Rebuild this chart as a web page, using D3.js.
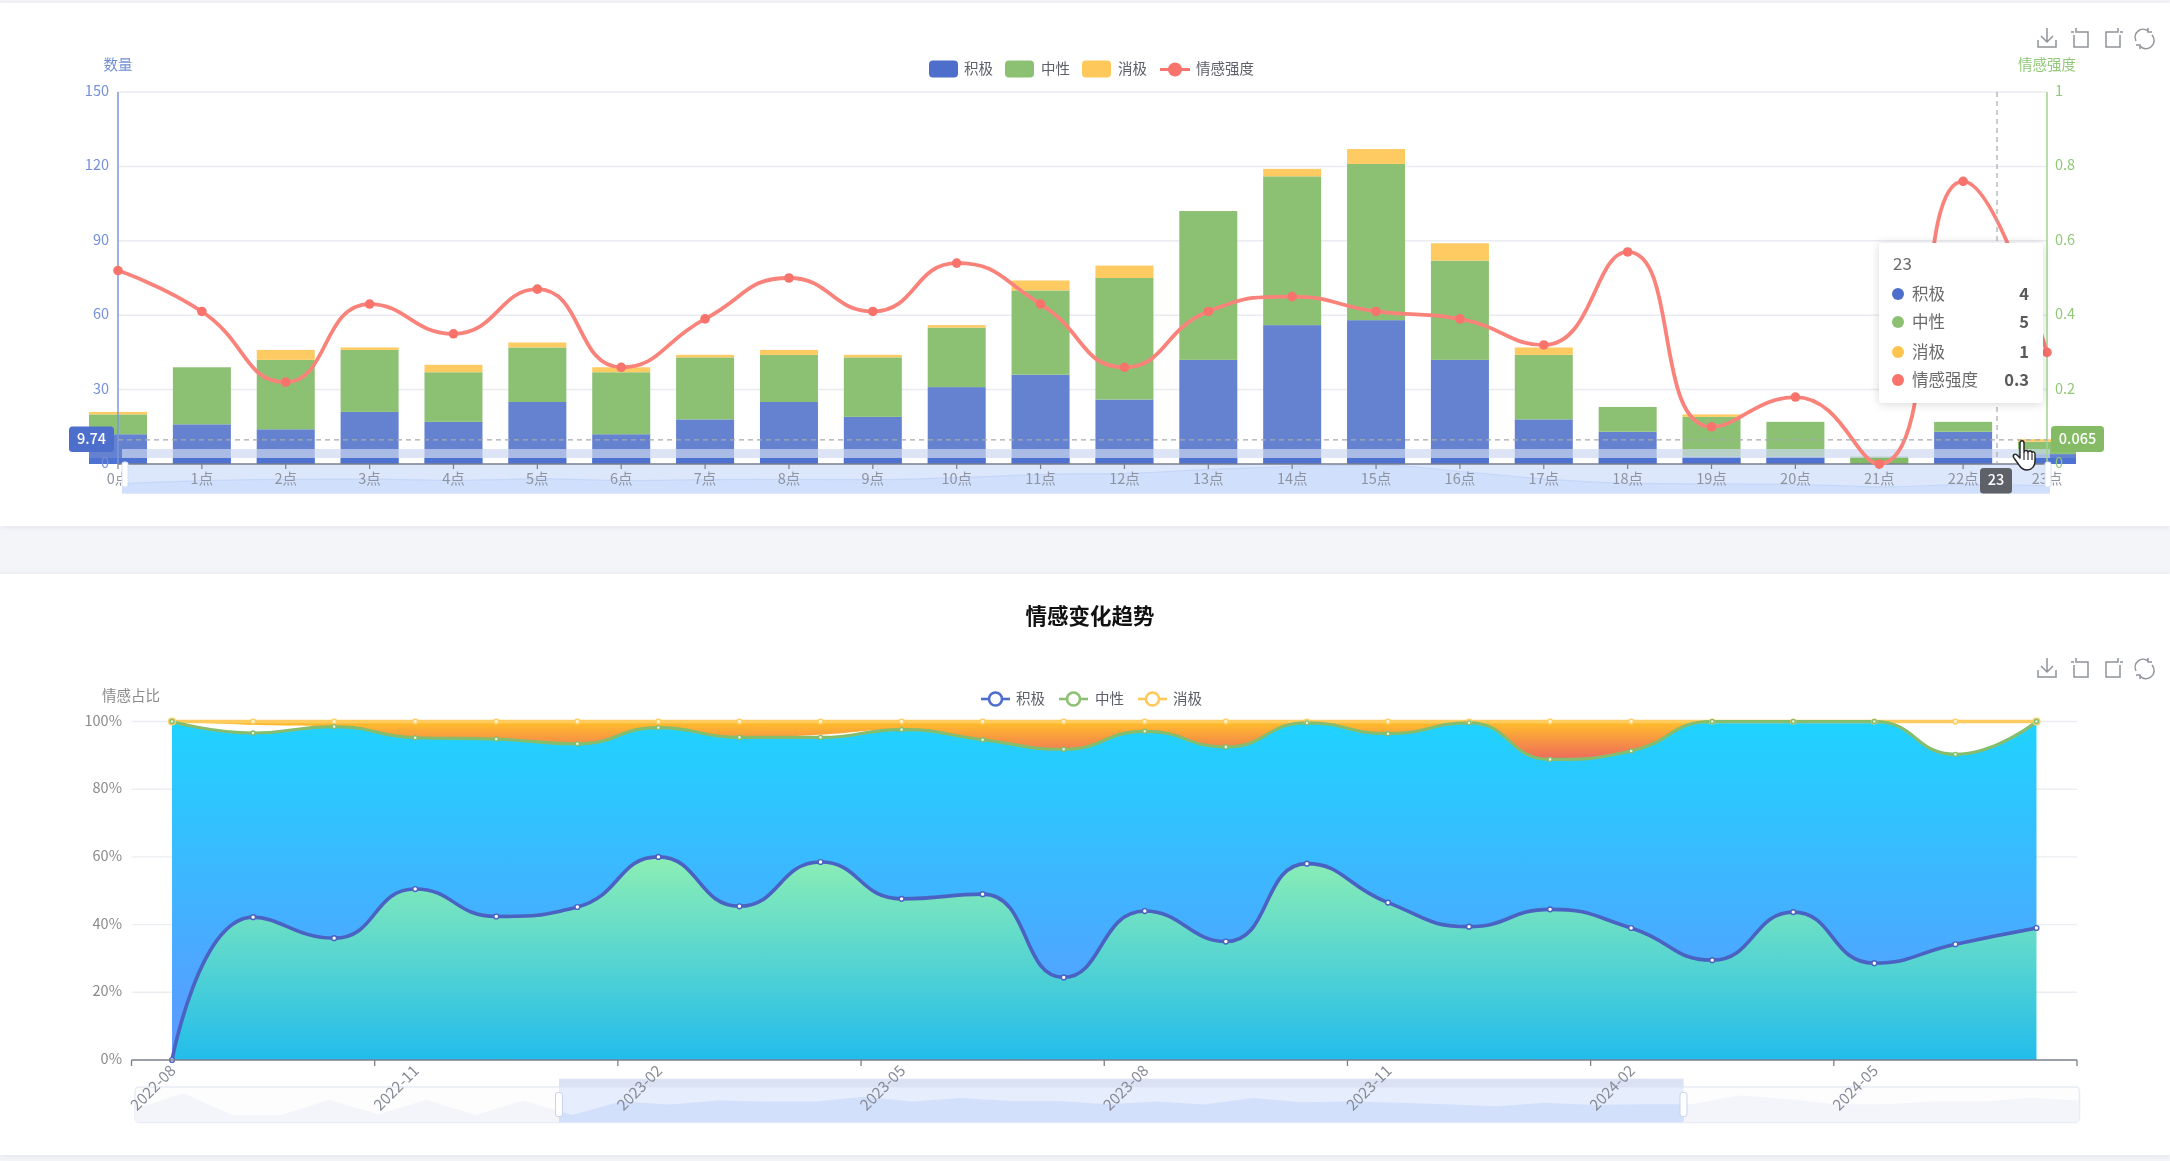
<!DOCTYPE html>
<html><head><meta charset="utf-8">
<script src="https://cdn.jsdelivr.net/npm/d3@7"></script>
<style>
html,body{margin:0;padding:0;background:#f4f5f9;}
svg{display:block;filter:blur(0.6px);}
text{font-family:"Noto Sans CJK SC","Noto Sans",sans-serif;}
</style></head><body><svg id="c" width="2170" height="1161"></svg>
<script>
// ---------- data: top chart ----------
const hours = d3.range(24).map(String);
const hourLabels = ["0点","1点","2点","3点","4点","5点","6点","7点","8点","9点","10点","11点","12点","13点","14点","15点","16点","17点","18点","19点","20点","21点","22点","23点"];
const positiveCount = [12,16,14,21,17,25,12,18,25,19,31,36,26,42,56,58,42,18,13,3,3,0,13,4];
const neutralCount  = [8,23,28,25,20,22,25,25,19,24,24,34,49,60,60,63,40,26,10,16,14,3,4,5];
const negativeCount = [1,0,4,1,3,2,2,1,2,1,1,4,5,0,3,6,7,3,0,1,0,0,0,1];
const intensity = [.52,.41,.22,.43,.35,.47,.26,.39,.50,.41,.54,.43,.26,.41,.45,.41,.39,.32,.57,.10,.18,0,.76,.30];
const leftTicks = [0,30,60,90,120,150];
const rightTicks = [0,.2,.4,.6,.8,1];
const tooltipRows = [["积极","4"],["中性","5"],["消极","1"],["情感强度","0.3"]];
// ---------- data: bottom chart ----------
const months = ["2022-08","2022-09","2022-10","2022-11","2022-12","2023-01","2023-02","2023-03","2023-04","2023-05","2023-06","2023-07","2023-08","2023-09","2023-10","2023-11","2023-12","2024-01","2024-02","2024-03","2024-04","2024-05","2024-06","2024-07"];
const monthLabels = ["2022-08","2022-11","2023-02","2023-05","2023-08","2023-11","2024-02","2024-05"];
const positiveShare = [0,42.2,36,50.5,42.4,45.2,60,45.4,58.5,47.6,49,24.4,44,35,58,46.5,39.4,44.5,39,29.5,43.7,28.6,34.2,39];
const neutralShare  = [100,54.4,62.5,44.7,52.4,48.2,38.2,49.9,36.8,50,45.6,67.4,53.1,57.5,41.6,49.9,60.2,44.3,52.3,70.5,56.3,71.4,56.1,61];
const negativeShare = [0,3.4,1.5,4.8,5.2,6.6,1.8,4.7,4.7,2.4,5.4,8.2,2.9,7.5,.4,3.6,.4,11.2,8.7,0,0,0,9.7,0];
// lower edge of the orange fill: it leaves white gaps above the green line
const negativeFillFloor = [100,99,98.5,95.2,94.8,93.4,98.2,95.3,96.1,97.6,94.6,91.8,97.1,92.5,99.6,96.4,99.6,88.8,91.3,100,100,100,100,100];
const pctTicks = [0,20,40,60,80,100];
const sliderShadow = [25,68,8,8,50,10,50,8,48,8,45,37,48,45,45,58,45,55,47,47,38,45,37,55,43,45,42,38,32,42,36,38,38,62,52,38,38,45,45,55,48];

const svg = d3.select("#c");
const defs = svg.append("defs");

// ECharts-style smoothing as a d3 curve
function SmoothCurve(ctx){this._c=ctx;}
SmoothCurve.prototype={
  areaStart(){this._line=0;},
  areaEnd(){this._line=NaN;},
  lineStart(){this._p=[];},
  point(x,y){this._p.push([+x,+y]);},
  lineEnd(){
    const p=this._p,n=p.length,c=this._c,s=.5;
    if(n){
      this._line?c.lineTo(p[0][0],p[0][1]):c.moveTo(p[0][0],p[0][1]);
      const out=[],inn=[];
      const cl=(v,a,b)=>Math.max(Math.min(v,Math.max(a,b)),Math.min(a,b));
      p.forEach((q,i)=>{
        if(i===0||i===n-1){out[i]=q;inn[i]=q;return;}
        const a=p[i-1],b=p[i+1];
        const lp=Math.hypot(q[0]-a[0],q[1]-a[1]),ln=Math.hypot(b[0]-q[0],b[1]-q[1]);
        const r=ln/(ln+lp);
        let nx=cl(q[0]+(b[0]-a[0])*s*r,b[0],q[0]),ny=cl(q[1]+(b[1]-a[1])*s*r,b[1],q[1]);
        let px=cl(q[0]-(nx-q[0])*lp/ln,a[0],q[0]),py=cl(q[1]-(ny-q[1])*lp/ln,a[1],q[1]);
        nx=q[0]+(q[0]-px)*ln/lp;ny=q[1]+(q[1]-py)*ln/lp;
        out[i]=[nx,ny];inn[i]=[px,py];
      });
      for(let i=1;i<n;i++)c.bezierCurveTo(out[i-1][0],out[i-1][1],inn[i][0],inn[i][1],p[i][0],p[i][1]);
    }
    if(this._line)c.closePath();
    this._line=1-this._line;
  }
};
const smooth=ctx=>new SmoothCurve(ctx);

// ---------- page panels ----------
defs.append("filter").attr("id","soft").attr("x","-20%").attr("y","-20%").attr("width","140%").attr("height","140%")
  .append("feDropShadow").attr("dx",0).attr("dy",1).attr("stdDeviation",5).attr("flood-color","#000").attr("flood-opacity",.16);
defs.append("filter").attr("id","panel").attr("x","-2%").attr("y","-5%").attr("width","104%").attr("height","110%")
  .append("feDropShadow").attr("dx",0).attr("dy",1).attr("stdDeviation",3).attr("flood-color","#8a90a8").attr("flood-opacity",.18);
svg.append("rect").attr("width",2170).attr("height",1161).attr("fill","#f4f5f9");
svg.append("rect").attr("x",0).attr("y",3).attr("width",2170).attr("height",523).attr("fill","#fff").attr("filter","url(#panel)");
svg.append("rect").attr("x",0).attr("y",574).attr("width",2170).attr("height",581).attr("fill","#fff").attr("filter","url(#panel)");

function toolbox(y){
  const g=svg.append("g").attr("fill","none").attr("stroke","#8f949b").attr("stroke-width",1.5);
  const shapes=[[2037,"M10 0V13M4 8L10 14L16 8M1 12V19H19V12"],
    [2071,"M5 0V4H17V19H3V7M0 4H3"],
    [2103,"M15 0V4H3V19H17V7M20 4H17"],
    [2133,"M3 13A8 8 0 0 1 15 3M19 7A8 8 0 0 1 7 18M15 0V4H19M7 21V17H3"]];
  shapes.forEach(([x,d])=>g.append("path").attr("transform",`translate(${x},${y})`).attr("d",d));
}
toolbox(28);toolbox(658);

// ---------- top chart ----------
const tx=d3.scalePoint().domain(hours).range([118,2047]);
const ty=d3.scaleLinear().domain([0,150]).range([464,92]);
const tr=d3.scaleLinear().domain([0,1]).range([464,92]);
const BAR=58;
const barColors=["#6482cf","#8cc173","#fecb62"];
const barColorsStrong=["#4d72d2","#82bb66","#fecb62"];
const stackRows=hours.map((h,i)=>({h,p:positiveCount[i],n:neutralCount[i],m:negativeCount[i]}));
const topStack=d3.stack().keys(["p","n","m"])(stackRows);

const gridT=svg.append("g");
gridT.selectAll("line").data(leftTicks.slice(1)).join("line")
  .attr("x1",118).attr("x2",2047).attr("y1",d=>ty(d)).attr("y2",d=>ty(d)).attr("stroke","#e9ebf1").attr("stroke-width",1.5);

function drawBars(g,colors){
  g.selectAll("g").data(topStack).join("g").attr("fill",(d,i)=>colors[i])
   .selectAll("rect").data(d=>d).join("rect")
   .attr("x",d=>tx(d.data.h)-BAR/2).attr("width",BAR)
   .attr("y",d=>ty(d[1])).attr("height",d=>Math.max(0,ty(d[0])-ty(d[1])));
}
drawBars(svg.append("g"),barColors);

// slider of the top chart
svg.append("rect").attr("x",122).attr("y",449).attr("width",1928).attr("height",9).attr("fill","rgb(203,215,240)").attr("fill-opacity",.68);
svg.append("rect").attr("x",122).attr("y",458).attr("width",1928).attr("height",6).attr("fill","#fff").attr("fill-opacity",.35);
defs.append("clipPath").attr("id","lowBand").append("rect").attr("x",0).attr("y",458).attr("width",2170).attr("height",6);
drawBars(svg.append("g").attr("clip-path","url(#lowBand)"),barColorsStrong);
svg.append("rect").attr("x",122).attr("y",464).attr("width",1928).attr("height",29.5).attr("fill","#dce7fc");
const totals=hours.map((h,i)=>positiveCount[i]+neutralCount[i]+negativeCount[i]);
const shadowY=d3.scaleLinear().domain([0,127]).range([487.5,465]);
const shadowX=d3.scalePoint().domain(hours).range([122,2050]);
svg.append("path").datum(totals).attr("fill","#d0dffc")
  .attr("d",d3.area().x((d,i)=>shadowX(hours[i])).y0(493.5).y1(d=>shadowY(d)).curve(d3.curveMonotoneX));
svg.append("path").datum(totals).attr("fill","none").attr("stroke","#c5d6f9").attr("stroke-width",1.2)
  .attr("d",d3.line().x((d,i)=>shadowX(hours[i])).y(d=>shadowY(d)).curve(d3.curveMonotoneX));

// axes
svg.append("line").attr("x1",118).attr("x2",118).attr("y1",92).attr("y2",464).attr("stroke","#7d97d8").attr("stroke-width",1.5);
svg.append("line").attr("x1",2047).attr("x2",2047).attr("y1",92).attr("y2",464).attr("stroke","#a3d38d").attr("stroke-width",1.5);
svg.append("line").attr("x1",118).attr("x2",2047).attr("y1",464).attr("y2",464).attr("stroke","#7b7f8c").attr("stroke-width",1.5);
const ticksT=svg.append("g").selectAll("g").data(hours).join("g").attr("transform",d=>`translate(${tx(d)},464)`);
ticksT.append("line").attr("y2",5).attr("stroke","#7b7f8c").attr("stroke-width",1.2);
ticksT.append("text").attr("y",20).attr("text-anchor","middle").attr("font-size",14.5).attr("fill","#8d939f").text((d,i)=>hourLabels[i]);
svg.append("g").selectAll("text").data(leftTicks).join("text")
  .attr("x",109).attr("y",d=>ty(d)+4).attr("text-anchor","end").attr("font-size",14.5).attr("fill","#7490d6").text(d=>d);
svg.append("g").selectAll("text").data(rightTicks).join("text")
  .attr("x",2055).attr("y",d=>tr(d)+4).attr("font-size",14.5).attr("fill","#91c878").text(d=>d);
svg.append("text").attr("x",118).attr("y",70).attr("text-anchor","middle").attr("font-size",14.5).attr("fill","#7490d6").text("数量");
svg.append("text").attr("x",2047).attr("y",70).attr("text-anchor","middle").attr("font-size",14.5).attr("fill","#91c878").text("情感强度");

// intensity line
svg.append("path").datum(intensity).attr("fill","none").attr("stroke","#f9837b").attr("stroke-width",3.8)
  .attr("d",d3.line().x((d,i)=>tx(hours[i])).y(d=>tr(d)).curve(smooth));
svg.append("g").selectAll("circle").data(intensity).join("circle")
  .attr("cx",(d,i)=>tx(hours[i])).attr("cy",d=>tr(d)).attr("r",4.8).attr("fill","#f8736b");

// legend
const legT=[[929,"#4d6fcb",964,"积极"],[1005,"#8cc173",1041,"中性"],[1082,"#fec85a",1118,"消极"]];
legT.forEach(([x,c,tx2,t])=>{
  svg.append("rect").attr("x",x).attr("y",60.5).attr("width",29).attr("height",17).attr("rx",4).attr("fill",c);
  svg.append("text").attr("x",tx2).attr("y",74).attr("font-size",14.5).attr("fill","#5d6068").text(t);
});
svg.append("line").attr("x1",1160).attr("x2",1190).attr("y1",69.5).attr("y2",69.5).attr("stroke","#f8766e").attr("stroke-width",3);
svg.append("circle").attr("cx",1175).attr("cy",69.5).attr("r",7).attr("fill","#f8736b");
svg.append("text").attr("x",1196).attr("y",74).attr("font-size",14.5).attr("fill","#5d6068").text("情感强度");

// axis pointer
const pointerColor="#a8a9ad";
svg.append("line").attr("x1",118).attr("x2",2047).attr("y1",ty(9.74)).attr("y2",ty(9.74)).attr("stroke",pointerColor).attr("stroke-width",1.3).attr("stroke-dasharray","5 4");
svg.append("line").attr("x1",1997).attr("x2",1997).attr("y1",92).attr("y2",464).attr("stroke",pointerColor).attr("stroke-width",1.2).attr("stroke-dasharray","5 4");

// slider handles
[122,2045].forEach(x=>svg.append("rect").attr("x",x).attr("y",462).attr("width",6).attr("height",25).attr("rx",2).attr("fill","#fff").attr("stroke","#d5dff3"));

// tooltip
const tip=svg.append("g");
tip.append("rect").attr("x",1879).attr("y",243).attr("width",164).attr("height",160).attr("rx",4).attr("fill","#fff").attr("filter","url(#soft)");
tip.append("text").attr("x",1893).attr("y",270).attr("font-size",17).attr("fill","#6a6a6a").text("23");
const tipColors=["#4d6fcb","#8cc173","#fec44f","#f8736b"];
tooltipRows.forEach(([a,b],i)=>{
  const y=[294,322,352,380][i];
  tip.append("circle").attr("cx",1898).attr("cy",y).attr("r",6).attr("fill",tipColors[i]);
  tip.append("text").attr("x",1912).attr("y",y+6).attr("font-size",16.5).attr("fill","#6a6a6a").text(a);
  tip.append("text").attr("x",2029).attr("y",y+6).attr("text-anchor","end").attr("font-size",16.5).attr("font-weight",700).attr("fill","#5a5a5a").text(b);
});

// pointer labels
function badge(x,y,w,h,c,t){
  svg.append("rect").attr("x",x).attr("y",y).attr("width",w).attr("height",h).attr("rx",3.5).attr("fill",c);
  svg.append("text").attr("x",x+w/2).attr("y",y+h/2+4.5).attr("text-anchor","middle").attr("font-size",14.5).attr("font-weight",500).attr("fill","#fff").text(t);
}
badge(69,426.5,45,25.5,"#4d6fcb","9.74");
badge(2051,426,53,26,"#85bb65","0.065");
badge(1980,468,32,25.5,"#5f6168","23");

// cursor
svg.append("path").attr("transform","translate(2013,440)")
  .attr("d","M7 3C7 0 11 0 11 3V12C11 10 15 10 15 12.5C15 10.5 19 10.5 19 13C19 11 22 11.5 22 14V21C22 26 19 30 14 30C10 30 8 28 6 25L1 18C-1 15 2 13 4 15L7 18Z")
  .attr("fill","#fff").attr("stroke","#222").attr("stroke-width",1.4).attr("stroke-linejoin","round");
svg.append("path").attr("transform","translate(2013,440)")
  .attr("d","M11 12V20M15 13V20M19 14V20").attr("fill","none").attr("stroke","#222").attr("stroke-width",1.1);

// ---------- bottom chart ----------
const bx=d3.scaleBand().domain(months).range([131.5,2077]);
const cx=m=>bx(m)+bx.bandwidth()/2;
const by=d3.scaleLinear().domain([0,100]).range([1060,721.5]);
svg.append("text").attr("x",1090).attr("y",624).attr("text-anchor","middle").attr("font-size",21.5).attr("font-weight",700).attr("fill","#111").text("情感变化趋势");

svg.append("g").selectAll("line").data(pctTicks.slice(1)).join("line")
  .attr("x1",131.5).attr("x2",2077).attr("y1",d=>by(d)).attr("y2",d=>by(d)).attr("stroke","#ebedf2").attr("stroke-width",1.4);

function grad(id,y1,y2,a,b){
  const g=defs.append("linearGradient").attr("id",id).attr("gradientUnits","userSpaceOnUse").attr("x1",0).attr("x2",0).attr("y1",y1).attr("y2",y2);
  g.append("stop").attr("offset",0).attr("stop-color",a);
  g.append("stop").attr("offset",1).attr("stop-color",b);
}
grad("gPos",by(60),by(0),"#8ceeb4","#22bcec");
grad("gNeu",by(100),by(0),"#1fd3ff","#5f96ff");
grad("gNeg",by(100),by(88.8),"#ffbf2a","#ee6a5c");

const shareRows=months.map((m,i)=>({m,p:positiveShare[i],n:neutralShare[i],g:negativeShare[i]}));
const [sP,sN,sG]=d3.stack().keys(["p","n","g"])(shareRows);
const mx=(d,i)=>cx(months[i]);
svg.append("path").datum(sN).attr("fill","url(#gNeu)")
  .attr("d",d3.area().x(mx).y0(d=>by(d[0])).y1(d=>by(d[1])).curve(smooth));
svg.append("path").datum(sP).attr("fill","url(#gPos)")
  .attr("d",d3.area().x(mx).y0(d=>by(d[0])).y1(d=>by(d[1])).curve(smooth));
svg.append("path").datum(negativeFillFloor).attr("fill","url(#gNeg)")
  .attr("d",d3.area().x(mx).y0(d=>by(d)).y1(by(100)).curve(smooth));

const lineStyles=[[sG,"#fecb5e",3.6,2.4,"#fff3cf"],[sN,"#84bd6e",3.2,2,"#e6f3dd"],[sP,"#4a62c2",3.6,2.4,"#fff"]];
lineStyles.forEach(([s,c,w])=>svg.append("path").datum(s).attr("fill","none").attr("stroke",c).attr("stroke-width",w)
  .attr("d",d3.line().x(mx).y(d=>by(d[1])).curve(smooth)));
lineStyles.forEach(([s,c,w,r,f])=>svg.append("g").selectAll("circle").data(s).join("circle")
  .attr("cx",mx).attr("cy",d=>by(d[1])).attr("r",(d,i)=>(i===0||i===23)&&s===sG?3.4:r)
  .attr("fill",f).attr("stroke",c).attr("stroke-width",1.4));

// slider of the bottom chart
const sx=d3.scaleLinear().domain([0,sliderShadow.length-1]).range([135,2079]);
const sy=d3.scaleLinear().domain([0,70]).range([1118,1092.5]);
svg.append("rect").attr("x",135).attr("y",1087).attr("width",1944.5).attr("height",35.5).attr("rx",4).attr("fill","#fdfdfe").attr("stroke","#e8ebf3").attr("stroke-width",1.5);
defs.append("clipPath").attr("id","sliderAll").append("rect").attr("x",135).attr("y",1087).attr("width",1944.5).attr("height",35.5);
svg.append("path").datum(sliderShadow).attr("clip-path","url(#sliderAll)").attr("fill","#f3f5fb")
  .attr("d",d3.area().x((d,i)=>sx(i)).y0(1122.5).y1(d=>sy(d)));
svg.append("rect").attr("x",559).attr("y",1078.7).attr("width",1124.6).attr("height",9).attr("fill","#dbe2f3");
svg.append("rect").attr("x",559).attr("y",1087.7).attr("width",1124.6).attr("height",34.8).attr("fill","#e6eefd");
defs.append("clipPath").attr("id","sliderSel").append("rect").attr("x",559).attr("y",1087.7).attr("width",1124.6).attr("height",34.8);
svg.append("path").datum(sliderShadow).attr("clip-path","url(#sliderSel)").attr("fill","#d2e0fb")
  .attr("d",d3.area().x((d,i)=>sx(i)).y0(1122.5).y1(d=>sy(d)));
[555.5,1680].forEach(x=>svg.append("rect").attr("x",x).attr("y",1092.5).attr("width",7).attr("height",24).attr("rx",2.5).attr("fill","#fff").attr("stroke","#c8d3ea"));

// axes of the bottom chart
svg.append("line").attr("x1",131.5).attr("x2",2077).attr("y1",1060).attr("y2",1060).attr("stroke","#7b7f8c").attr("stroke-width",1.6);
const labelled=months.filter(m=>monthLabels.includes(m));
svg.append("g").selectAll("line").data(labelled.map(m=>bx(m)).concat([2077])).join("line")
  .attr("x1",d=>d).attr("x2",d=>d).attr("y1",1060).attr("y2",1066).attr("stroke","#7b7f8c").attr("stroke-width",1.3);
svg.append("g").selectAll("text").data(labelled).join("text")
  .attr("transform",m=>`translate(${cx(m)+1},${1068}) rotate(-45)`).attr("text-anchor","end").attr("dy",".35em")
  .attr("font-size",15.3).attr("fill","#858a95").text(m=>m);
svg.append("g").selectAll("text").data(pctTicks).join("text")
  .attr("x",122).attr("y",d=>by(d)+4).attr("text-anchor","end").attr("font-size",14.5).attr("fill","#8a8a8a").text(d=>d+"%");
svg.append("text").attr("x",131).attr("y",700.5).attr("text-anchor","middle").attr("font-size",14.5).attr("fill","#8a8a8a").text("情感占比");

// legend of the bottom chart
const legB=[[981,"#4d6fcb",1016,"积极"],[1059,"#8cc173",1095,"中性"],[1138,"#fec85a",1173,"消极"]];
legB.forEach(([x,c,tx2,t])=>{
  svg.append("line").attr("x1",x).attr("x2",x+29).attr("y1",699).attr("y2",699).attr("stroke",c).attr("stroke-width",2.6);
  svg.append("circle").attr("cx",x+14.5).attr("cy",699).attr("r",6.5).attr("fill","#fff").attr("stroke",c).attr("stroke-width",2.6);
  svg.append("text").attr("x",tx2).attr("y",704).attr("font-size",14.5).attr("fill","#5d6068").text(t);
});
</script></body></html>
